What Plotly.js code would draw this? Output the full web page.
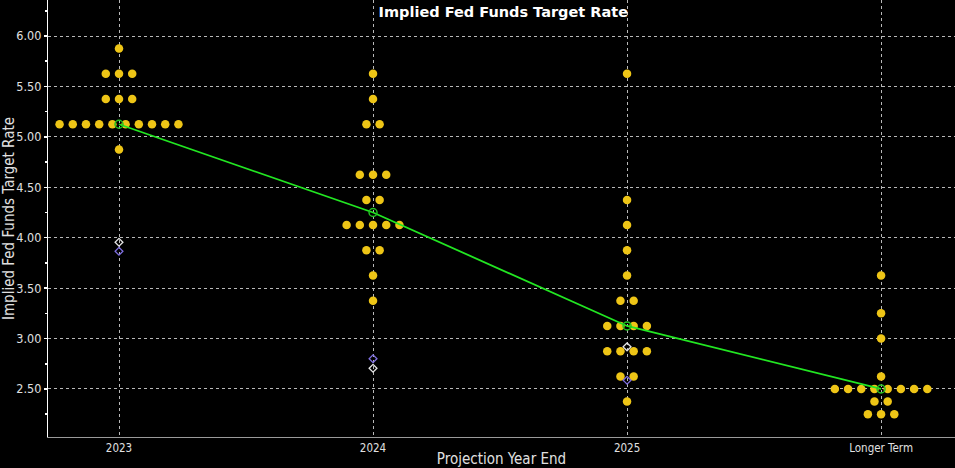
<!DOCTYPE html>
<html>
<head>
<meta charset="utf-8">
<script src="https://cdn.plot.ly/plotly-3.0.1.min.js"></script>
<style>
  html, body { margin: 0; padding: 0; background: #000; }
  #chart { width: 955px; height: 468px; }
</style>
</head>
<body>
<div id="chart"></div>
<script>
// ---- Data ----
const categories = ['2023', '2024', '2025', 'Longer Term'];

const dots2023Rates  = [5.875, 5.625, 5.375, 5.125, 4.875];
const dots2023Counts = [1, 3, 3, 10, 1];

const dots2024Rates  = [5.625, 5.375, 5.125, 4.625, 4.375, 4.125, 3.875, 3.625, 3.375];
const dots2024Counts = [1, 1, 2, 3, 2, 5, 2, 1, 1];

const dots2025Rates  = [5.625, 4.375, 4.125, 3.875, 3.625, 3.375, 3.125, 2.875, 2.625, 2.375];
const dots2025Counts = [1, 1, 1, 1, 1, 2, 4, 4, 2, 1];

const dotsLTRates  = [3.625, 3.25, 3.0, 2.625, 2.5, 2.375, 2.25];
const dotsLTCounts = [1, 1, 1, 1, 8, 2, 3];

const medianRates = [5.125, 4.25, 3.125, 2.5];
const marketWhite  = [3.955, 2.706, 2.918, null];
const marketPurple = [3.866, 2.80, 2.587, null];

// ---- Build dot-plot positions (spread dots horizontally around each category) ----
const step = 0.052;
const groups = [
  [dots2023Rates, dots2023Counts],
  [dots2024Rates, dots2024Counts],
  [dots2025Rates, dots2025Counts],
  [dotsLTRates, dotsLTCounts]
];
const dotX = [], dotY = [];
groups.forEach(([rates, counts], ci) => {
  rates.forEach((r, k) => {
    const n = counts[k];
    for (let i = 0; i < n; i++) {
      dotX.push(ci + (i - (n - 1) / 2) * step);
      dotY.push(r);
    }
  });
});
const catIdx = categories.map((c, i) => i);

const traces = [
  {
    type: 'scatter', mode: 'markers', x: dotX, y: dotY,
    marker: { color: '#eec516', size: 8.5, line: { width: 0 } },
    hoverinfo: 'y', showlegend: false
  },
  {
    type: 'scatter', mode: 'lines+markers', x: catIdx, y: medianRates,
    line: { color: '#22e622', width: 1.8 },
    marker: { symbol: 'circle-open', color: '#22c022', size: 8, line: { width: 1.5 } },
    showlegend: false
  },
  {
    type: 'scatter', mode: 'markers', x: catIdx, y: marketWhite,
    marker: { symbol: 'diamond-open', color: '#e6e6e6', size: 6, line: { width: 1.3 } },
    showlegend: false
  },
  {
    type: 'scatter', mode: 'markers', x: catIdx, y: marketPurple,
    marker: { symbol: 'diamond-open', color: '#7f6fe0', size: 6, line: { width: 1.3 } },
    showlegend: false
  }
];

const narrow = 'Liberation Sans Narrow, DejaVu Sans Condensed, Arial Narrow, sans-serif';

const layout = {
  width: 955, height: 468,
  paper_bgcolor: '#000', plot_bgcolor: '#000',
  margin: { l: 48, r: 0, t: 0, b: 31, pad: 0 },
  title: {
    text: '<b>Implied Fed Funds Target Rate</b>',
    font: { family: 'DejaVu Sans, Verdana, sans-serif', size: 14.5, color: '#ffffff' },
    x: 0.527, xanchor: 'center', y: 0.975, yref: 'container', yanchor: 'middle'
  },
  xaxis: {
    range: [-0.2795, 3.291],
    tickmode: 'array', tickvals: catIdx, ticktext: categories,
    ticks: '', showline: true, linecolor: '#9a9a9a', linewidth: 1,
    showgrid: true, gridcolor: '#b8b8b8', griddash: 'dot', gridwidth: 1,
    zeroline: false,
    tickfont: { family: narrow, size: 11.5, color: '#e0e0e0' },
    title: { text: 'Projection Year End', font: { family: narrow, size: 15, color: '#e0e0e0' }, standoff: 2 }
  },
  yaxis: {
    range: [2.024, 6.357],
    tickmode: 'linear', tick0: 2.5, dtick: 0.5, tickformat: '.2f',
    ticks: 'outside', ticklen: 3, tickcolor: '#ffffff', tickwidth: 1.5,
    minor: { dtick: 0.25, tick0: 2.25, ticks: 'outside', ticklen: 2, tickcolor: '#ffffff', showgrid: false },
    showline: true, linecolor: '#ffffff', linewidth: 1.2,
    showgrid: true, gridcolor: '#b8b8b8', griddash: 'dot', gridwidth: 1,
    zeroline: false,
    tickfont: { family: narrow, size: 12.5, color: '#e0e0e0' },
    title: { text: 'Implied Fed Funds Target Rate', font: { family: narrow, size: 15, color: '#e0e0e0' }, standoff: 5 }
  },
  showlegend: false
};

Plotly.newPlot('chart', traces, layout, { displayModeBar: false, staticPlot: true });
</script>
</body>
</html>
